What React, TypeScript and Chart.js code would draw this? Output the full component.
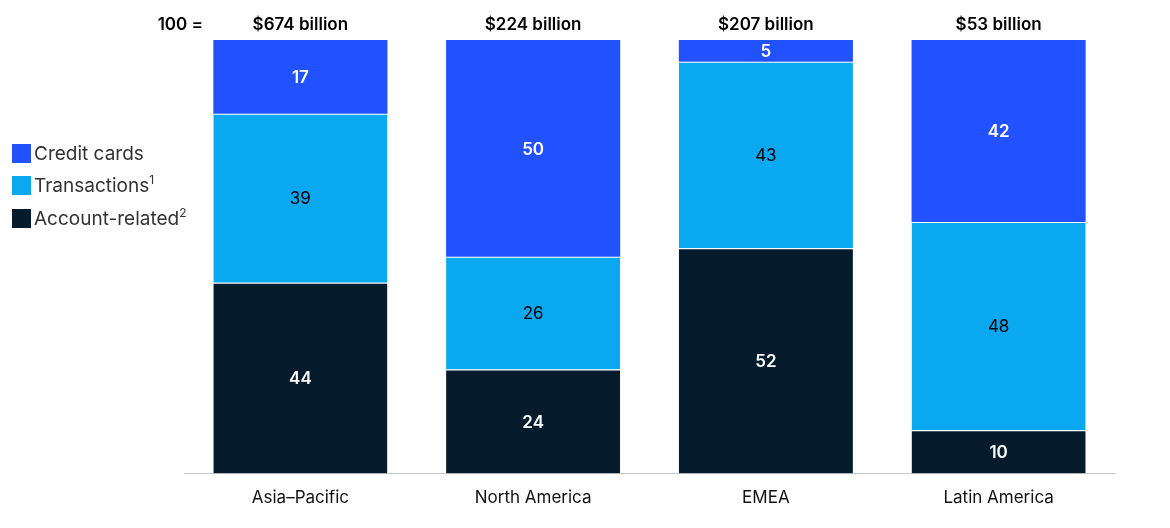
import React, { useEffect, useRef } from "react";
import { Chart, registerables } from "chart.js";

Chart.register(...registerables);

const categories = ["Asia–Pacific", "North America", "EMEA", "Latin America"];
const totals = ["$674 billion", "$224 billion", "$207 billion", "$53 billion"];
const accountRelated = [44, 24, 52, 10];
const transactions = [39, 26, 43, 48];
const creditCards = [17, 50, 5, 42];

const COLORS = {
  credit: "#2251FF",
  trans: "#0AA8F0",
  account: "#061C2C",
};

const FONT = "Inter, 'Liberation Sans', Arial, sans-serif";

const labelPlugin = {
  id: "labels",
  afterDatasetsDraw(chart: any) {
    const ctx = chart.ctx;
    ctx.save();
    ctx.textAlign = "center";
    ctx.textBaseline = "middle";
    chart.data.datasets.forEach((ds: any, di: number) => {
      const meta = chart.getDatasetMeta(di);
      meta.data.forEach((bar: any, i: number) => {
        const v = ds.data[i];
        const yMid = (bar.y + bar.base) / 2;
        ctx.fillStyle = ds.labelColor;
        ctx.font = `${ds.labelWeight} 17px ${FONT}`;
        ctx.fillText(String(v), bar.x, yMid + 1);
      });
    });
    const meta0 = chart.getDatasetMeta(0);
    ctx.font = `600 17px ${FONT}`;
    ctx.fillStyle = "#000";
    meta0.data.forEach((bar: any, i: number) => {
      ctx.fillText(totals[i], bar.x, 25);
    });
    ctx.textAlign = "right";
    ctx.fillText("100 =", 203, 25);
    ctx.restore();
  },
};

export default function App() {
  const ref = useRef<HTMLCanvasElement>(null);
  useEffect(() => {
    if (!ref.current) return;
    const chart = new Chart(ref.current, {
      type: "bar",
      data: {
        labels: categories,
        datasets: [
          {
            label: "Account-related",
            data: accountRelated,
            backgroundColor: COLORS.account,
            borderColor: "#ffffff",
            borderWidth: { top: 1, left: 0, right: 0, bottom: 0 },
            borderSkipped: false,
            labelColor: "#ffffff",
            labelWeight: 600,
          } as any,
          {
            label: "Transactions",
            data: transactions,
            backgroundColor: COLORS.trans,
            borderColor: "#ffffff",
            borderWidth: { top: 1, left: 0, right: 0, bottom: 0 },
            borderSkipped: false,
            labelColor: "#000000",
            labelWeight: 400,
          } as any,
          {
            label: "Credit cards",
            data: creditCards,
            backgroundColor: COLORS.credit,
            borderColor: "#ffffff",
            borderWidth: 0,
            labelColor: "#ffffff",
            labelWeight: 600,
          } as any,
        ],
      },
      options: {
        animation: false,
        responsive: false,
        maintainAspectRatio: false,
        layout: { padding: { left: 184, right: 55, top: 40, bottom: 6 } },
        plugins: { legend: { display: false }, tooltip: { enabled: false } },
        datasets: { bar: { categoryPercentage: 1, barPercentage: 0.748 } },
        scales: {
          x: {
            stacked: true,
            grid: { display: false, drawTicks: false },
            border: { display: true, color: "#c8c8c8", width: 1 },
            ticks: { color: "#111", font: { family: FONT, size: 17 }, padding: 14 },
          },
          y: {
            stacked: true,
            display: false,
            min: 0,
            max: 100,
          },
        },
      },
      plugins: [labelPlugin],
    });
    return () => chart.destroy();
  }, []);

  const legendItems = [
    { label: "Credit cards", sup: "", color: COLORS.credit },
    { label: "Transactions", sup: "1", color: COLORS.trans },
    { label: "Account-related", sup: "2", color: COLORS.account },
  ];

  return (
    <div style={{ position: "absolute", left: 0, top: 0, width: 1170, height: 528, background: "#fff" }}>
      <canvas ref={ref} width={1170} height={528} style={{ position: "absolute", left: 0, top: 0, width: 1170, height: 528 }} />
      <div style={{ position: "absolute", left: 12, top: 137, fontFamily: FONT, fontSize: 19, color: "#333" }}>
        {legendItems.map((it) => (
          <div key={it.label} style={{ display: "flex", alignItems: "center", height: 32.5 }}>
            <span style={{ display: "inline-block", width: 19, height: 19, background: it.color, marginRight: 3 }} />
            <span>
              {it.label}
              {it.sup && <sup style={{ fontSize: 12, verticalAlign: "top", position: "relative", top: -2 }}>{it.sup}</sup>}
            </span>
          </div>
        ))}
      </div>
    </div>
  );
}
